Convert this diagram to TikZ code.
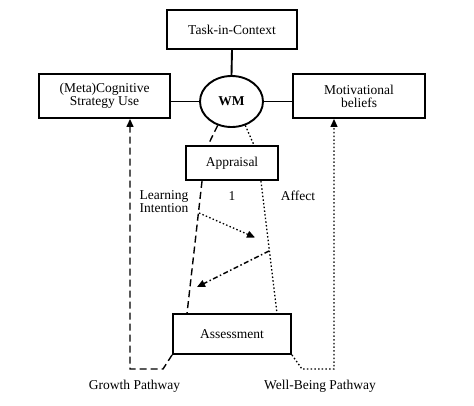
\documentclass[tikz,border=0pt]{standalone}
\usepackage{fontspec}
\setmainfont{Liberation Serif}
\usetikzlibrary{arrows.meta,shapes.geometric}
\begin{document}
\begin{tikzpicture}[x=1pt,y=-1pt,
  box/.style={draw,line width=1.9pt,rectangle,inner sep=0pt,align=center,font=\fontsize{13.5}{13}\selectfont},
  lbl/.style={font=\fontsize{13.5}{13}\selectfont,align=left,inner sep=0pt},
  conn/.style={line width=1.9pt},
  dsh/.style={line width=1.4pt,dash pattern=on 7pt off 4pt},
  dtt/.style={line width=1.3pt,dash pattern=on 1.5pt off 2.2pt},
  dd/.style={line width=1.4pt,dash pattern=on 5pt off 2.5pt on 1.5pt off 2.5pt},
  tip/.style={-{Triangle[length=8pt,width=7pt]}}]
\useasboundingbox (0,0) rectangle (474,405);
\node[box,minimum width=130pt,minimum height=39pt] (task) at (232,29.5) {Task-in-Context};
\node[box,minimum width=131pt,minimum height=44pt] (meta) at (104.5,96) {(Meta)Cognitive\\Strategy Use};
\node[draw,ellipse,line width=1.9pt,minimum width=63pt,minimum height=51pt,inner sep=0pt,font=\fontsize{13.5}{13}\selectfont\bfseries] (wm) at (231.5,101.5) {WM};
\node[box,minimum width=132pt,minimum height=44pt] (mot) at (359,96) {Motivational\\beliefs};
\node[box,minimum width=92pt,minimum height=34pt] (app) at (232,163) {Appraisal};
\node[box,minimum width=118pt,minimum height=40pt] (assess) at (232,334) {Assessment};

\draw[conn] (task.south) -- (wm.north);
\draw[conn] (wm.west) -- (wm.west -| meta.east);
\draw[conn] (wm.east) -- (wm.east -| mot.west);

\draw[dsh] (wm.240) -- ([xshift=23pt]app.north west);
\draw[dtt] (wm.300) -- ([xshift=-25pt]app.north east);
\draw[dsh] ([xshift=17pt]app.south west) -- ([xshift=15pt]assess.north west);
\draw[dtt] ([xshift=-18pt]app.south east) -- ([xshift=-15pt]assess.north east);

\coordinate (g1) at (163,369);
\coordinate (g2) at (130,369);
\coordinate (w1) at (302,369);
\coordinate (w2) at (334,369);
\draw[dsh,tip] (assess.south west) -- (g1) -- (g2) -- (g2 |- meta.south);
\draw[dtt,tip] (assess.south east) -- (w1) -- (w2) -- (w2 |- mot.south);

\coordinate (a1) at (199,213);
\coordinate (a2) at (255,237.5);
\coordinate (b1) at (269,251);
\coordinate (b2) at (197,287);
\draw[dtt,tip] (a1) -- (a2);
\draw[dd,tip] (b1) -- (b2);

\node[lbl] (li) at (164,202) {Learning\\Intention};
\node[lbl] (one) at (232,196) {1};
\node[lbl] (aff) at (298,196) {Affect};
\node[lbl] (gp) at (134.5,386) {Growth Pathway};
\node[lbl] (wp) at (320,386) {Well-Being Pathway};
\end{tikzpicture}
\end{document}
